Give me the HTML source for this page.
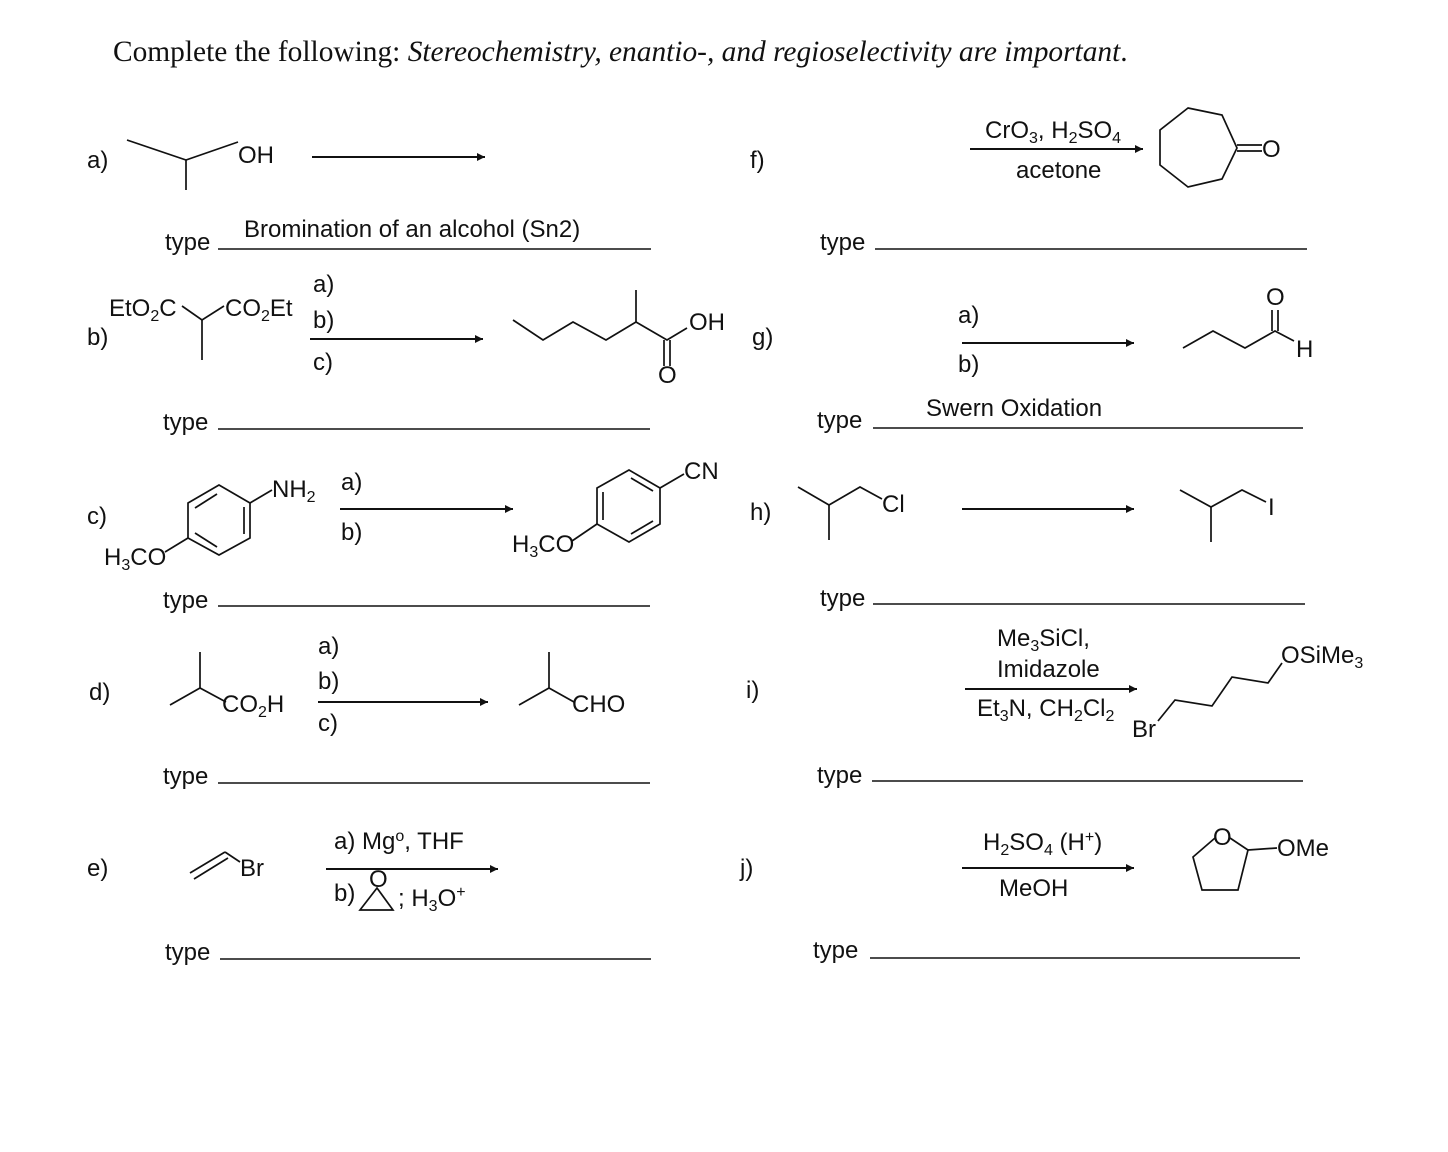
<!DOCTYPE html>
<html><head><meta charset="utf-8"><style>
body{margin:0;background:#fff}
svg{display:block}
text{font-family:"Liberation Sans",sans-serif;font-size:24px;fill:#111}
.t{font-family:"Liberation Serif",serif;font-size:29.4px}
.s{font-size:16px}
</style></head><body>
<svg width="1448" height="1152" viewBox="0 0 1448 1152" xmlns="http://www.w3.org/2000/svg">
<defs><marker id="ah" viewBox="0 0 10 10" refX="10" refY="5" markerWidth="16" markerHeight="8" markerUnits="userSpaceOnUse" orient="auto"><path d="M0,0L10,5L0,10z" fill="#111"/></marker></defs>
<text class="t" x="113" y="61">Complete the following: <tspan font-style="italic">Stereochemistry, enantio-, and regioselectivity are important</tspan>.</text>
<g stroke="#111" stroke-width="2" fill="none">
<line x1="312" y1="157" x2="485" y2="157" marker-end="url(#ah)"/>
<line x1="310" y1="339" x2="483" y2="339" marker-end="url(#ah)"/>
<line x1="340" y1="509" x2="513" y2="509" marker-end="url(#ah)"/>
<line x1="318" y1="702" x2="488" y2="702" marker-end="url(#ah)"/>
<line x1="326" y1="869" x2="498" y2="869" marker-end="url(#ah)"/>
<line x1="970" y1="149" x2="1143" y2="149" marker-end="url(#ah)"/>
<line x1="962" y1="343" x2="1134" y2="343" marker-end="url(#ah)"/>
<line x1="962" y1="509" x2="1134" y2="509" marker-end="url(#ah)"/>
<line x1="965" y1="689" x2="1137" y2="689" marker-end="url(#ah)"/>
<line x1="962" y1="868" x2="1134" y2="868" marker-end="url(#ah)"/>
<g stroke-width="1.5">
<line x1="218" y1="249" x2="651" y2="249"/>
<line x1="218" y1="429" x2="650" y2="429"/>
<line x1="218" y1="606" x2="650" y2="606"/>
<line x1="218" y1="783" x2="650" y2="783"/>
<line x1="220" y1="959" x2="651" y2="959"/>
<line x1="875" y1="249" x2="1307" y2="249"/>
<line x1="873" y1="428" x2="1303" y2="428"/>
<line x1="873" y1="604" x2="1305" y2="604"/>
<line x1="872" y1="781" x2="1303" y2="781"/>
<line x1="870" y1="958" x2="1300" y2="958"/>
</g>
<g stroke-width="1.7">
<polyline points="127,140 186,160 238,142"/><line x1="186" y1="160" x2="186" y2="190"/>
<polyline points="182,306 202,320 224,306"/><line x1="202" y1="320" x2="202" y2="360"/>
<polyline points="513,320 543,340 573,322 606,340 636,322 667,340 687,328"/>
<line x1="636" y1="322" x2="636" y2="290"/>
<line x1="664" y1="340" x2="664" y2="366"/><line x1="670" y1="340" x2="670" y2="366"/>
<polygon points="219,485 250,503 250,538 219,555 188,538 188,503"/>
<line x1="244" y1="507" x2="244" y2="534"/><line x1="195" y1="508" x2="217" y2="494"/><line x1="195" y1="533" x2="217" y2="547"/>
<line x1="250" y1="503" x2="272" y2="490"/><line x1="165" y1="552" x2="188" y2="538"/>
<polygon points="629,470 660,488 660,524 629,542 597,524 597,488"/>
<line x1="603" y1="492" x2="603" y2="520"/><line x1="631" y1="478" x2="653" y2="491"/><line x1="631" y1="534" x2="653" y2="521"/>
<line x1="660" y1="488" x2="684" y2="474"/><line x1="572" y1="541" x2="597" y2="524"/>
<polyline points="170,705 200,688 226,702"/><line x1="200" y1="688" x2="200" y2="652"/>
<polyline points="519,705 549,688 574,702"/><line x1="549" y1="688" x2="549" y2="652"/>
<line x1="190" y1="873" x2="225" y2="852"/><line x1="194" y1="879" x2="228" y2="858"/><line x1="225" y1="852" x2="240" y2="862"/>
<polygon points="360,910 393,910 377,888"/>
<polygon points="1188,108 1222,115 1237,148 1222,179 1188,187 1160,165 1160,130"/>
<line x1="1237" y1="145" x2="1262" y2="145"/><line x1="1237" y1="151" x2="1262" y2="151"/>
<polyline points="1183,348 1213,331 1245,348 1275,331 1294,341"/>
<line x1="1272" y1="331" x2="1272" y2="310"/><line x1="1278" y1="331" x2="1278" y2="310"/>
<polyline points="798,487 829,505 860,487 882,499"/><line x1="829" y1="505" x2="829" y2="540"/>
<polyline points="1180,490 1211,507 1242,490 1266,502"/><line x1="1211" y1="507" x2="1211" y2="542"/>
<polyline points="1158,721 1175,700 1212,706 1232,677 1268,683 1282,663"/>
<polyline points="1215,838 1193,857 1202,890 1238,890 1248,850 1230,838"/>
<line x1="1248" y1="850" x2="1277" y2="848"/>
</g>
</g>
<text x="87" y="168">a)</text><text x="238" y="163">OH</text>
<text x="165" y="250">type</text><text x="244" y="237">Bromination of an alcohol (Sn2)</text>
<text x="87" y="345">b)</text>
<text x="109" y="316">EtO<tspan class="s" dy="5">2</tspan><tspan dy="-5">C</tspan></text>
<text x="225" y="316">CO<tspan class="s" dy="5">2</tspan><tspan dy="-5">Et</tspan></text>
<text x="313" y="292">a)</text><text x="313" y="328">b)</text><text x="313" y="370">c)</text>
<text x="689" y="330">OH</text><text x="658" y="383">O</text>
<text x="163" y="430">type</text>
<text x="87" y="524">c)</text>
<text x="272" y="497">NH<tspan class="s" dy="5">2</tspan></text>
<text x="104" y="565">H<tspan class="s" dy="5">3</tspan><tspan dy="-5">CO</tspan></text>
<text x="341" y="490">a)</text><text x="341" y="540">b)</text>
<text x="684" y="479">CN</text>
<text x="512" y="552">H<tspan class="s" dy="5">3</tspan><tspan dy="-5">CO</tspan></text>
<text x="163" y="608">type</text>
<text x="89" y="700">d)</text>
<text x="222" y="712">CO<tspan class="s" dy="5">2</tspan><tspan dy="-5">H</tspan></text>
<text x="318" y="654">a)</text><text x="318" y="689">b)</text><text x="318" y="731">c)</text>
<text x="572" y="712">CHO</text>
<text x="163" y="784">type</text>
<text x="87" y="876">e)</text><text x="240" y="876">Br</text>
<text x="334" y="849">a)  Mg<tspan class="s" dy="-8">o</tspan><tspan dy="8">, THF</tspan></text>
<text x="334" y="901">b)</text><text x="369" y="887" font-size="18">O</text>
<text x="398" y="906">; H<tspan class="s" dy="5">3</tspan><tspan dy="-5">O</tspan><tspan class="s" dy="-9">+</tspan></text>
<text x="165" y="960">type</text>
<text x="750" y="168">f)</text>
<text x="985" y="138">CrO<tspan class="s" dy="5">3</tspan><tspan dy="-5">, H</tspan><tspan class="s" dy="5">2</tspan><tspan dy="-5">SO</tspan><tspan class="s" dy="5">4</tspan></text>
<text x="1016" y="178">acetone</text><text x="1262" y="157">O</text>
<text x="820" y="250">type</text>
<text x="752" y="345">g)</text>
<text x="958" y="323">a)</text><text x="958" y="372">b)</text>
<text x="926" y="416">Swern Oxidation</text>
<text x="1266" y="305">O</text><text x="1296" y="357">H</text>
<text x="817" y="428">type</text>
<text x="750" y="520">h)</text><text x="882" y="512">Cl</text><text x="1268" y="515">I</text>
<text x="820" y="606">type</text>
<text x="746" y="698">i)</text>
<text x="997" y="646">Me<tspan class="s" dy="5">3</tspan><tspan dy="-5">SiCl,</tspan></text>
<text x="997" y="677">Imidazole</text>
<text x="977" y="716">Et<tspan class="s" dy="5">3</tspan><tspan dy="-5">N, CH</tspan><tspan class="s" dy="5">2</tspan><tspan dy="-5">Cl</tspan><tspan class="s" dy="5">2</tspan></text>
<text x="1132" y="737">Br</text>
<text x="1281" y="663">OSiMe<tspan class="s" dy="5">3</tspan></text>
<text x="817" y="783">type</text>
<text x="740" y="876">j)</text>
<text x="983" y="850">H<tspan class="s" dy="5">2</tspan><tspan dy="-5">SO</tspan><tspan class="s" dy="5">4</tspan><tspan dy="-5"> (H</tspan><tspan class="s" dy="-8">+</tspan><tspan dy="8">)</tspan></text>
<text x="999" y="896">MeOH</text>
<text x="1213" y="845" font-size="21">O</text>
<text x="1277" y="856">OMe</text>
<text x="813" y="958">type</text>
</svg>
</body></html>
